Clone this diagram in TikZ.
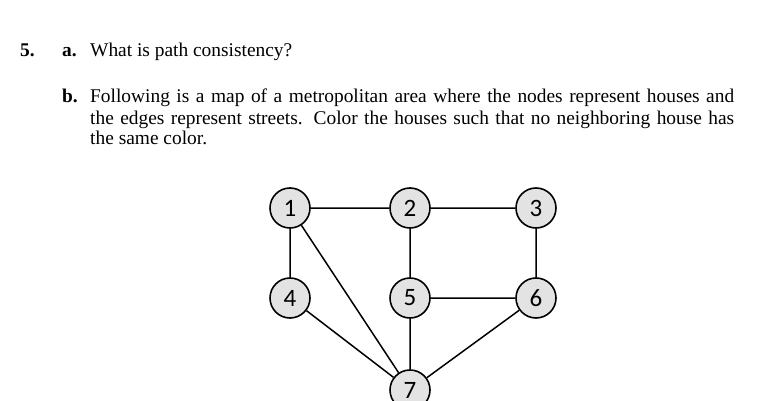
\documentclass[tikz,border=0pt]{standalone}
\usepackage{fontspec}
\setmainfont{Liberation Serif}
\newfontfamily\nodefont{Carlito}
\begin{document}
\begin{tikzpicture}[x=1pt,y=-1pt,
  house/.style={circle,draw,line width=1.6pt,fill=gray!22,minimum size=40pt,inner sep=0pt,font=\nodefont\fontsize{25}{25}\selectfont},
  street/.style={line width=1.5pt},
  txt/.style={anchor=base west,inner sep=0pt,font=\fontsize{19.4}{21}\selectfont}]
\useasboundingbox (0,0) rectangle (760,401);
\node[txt] (n5) at (20,57) {\textbf{5.}};
\node[txt] (na) at (62,57) {\textbf{a.}};
\node[txt] (ta) at (90,57) {What is path consistency?};
\node[txt] (nb) at (62,103) {\textbf{b.}};
\node[txt,text width=644pt,align=justify] (tb) at (90,103) {Following is a map of a metropolitan area where the nodes represent houses and\linebreak the edges represent streets. Color the houses such that no neighboring house has\linebreak the same color.};
\node[house] (h1) at (290,208) {1};
\node[house] (h2) at (410,208) {2};
\node[house] (h3) at (536,208) {3};
\node[house] (h4) at (290,298) {4};
\node[house] (h5) at (410,298) {5};
\node[house] (h6) at (536,298) {6};
\node[house] (h7) at (410,390) {7};
\draw[street] (h1)--(h2) (h2)--(h3) (h1)--(h4) (h3)--(h6) (h2)--(h5) (h5)--(h6)
  (h1)--(h7) (h4)--(h7) (h5)--(h7) (h6)--(h7);
\end{tikzpicture}
\end{document}
